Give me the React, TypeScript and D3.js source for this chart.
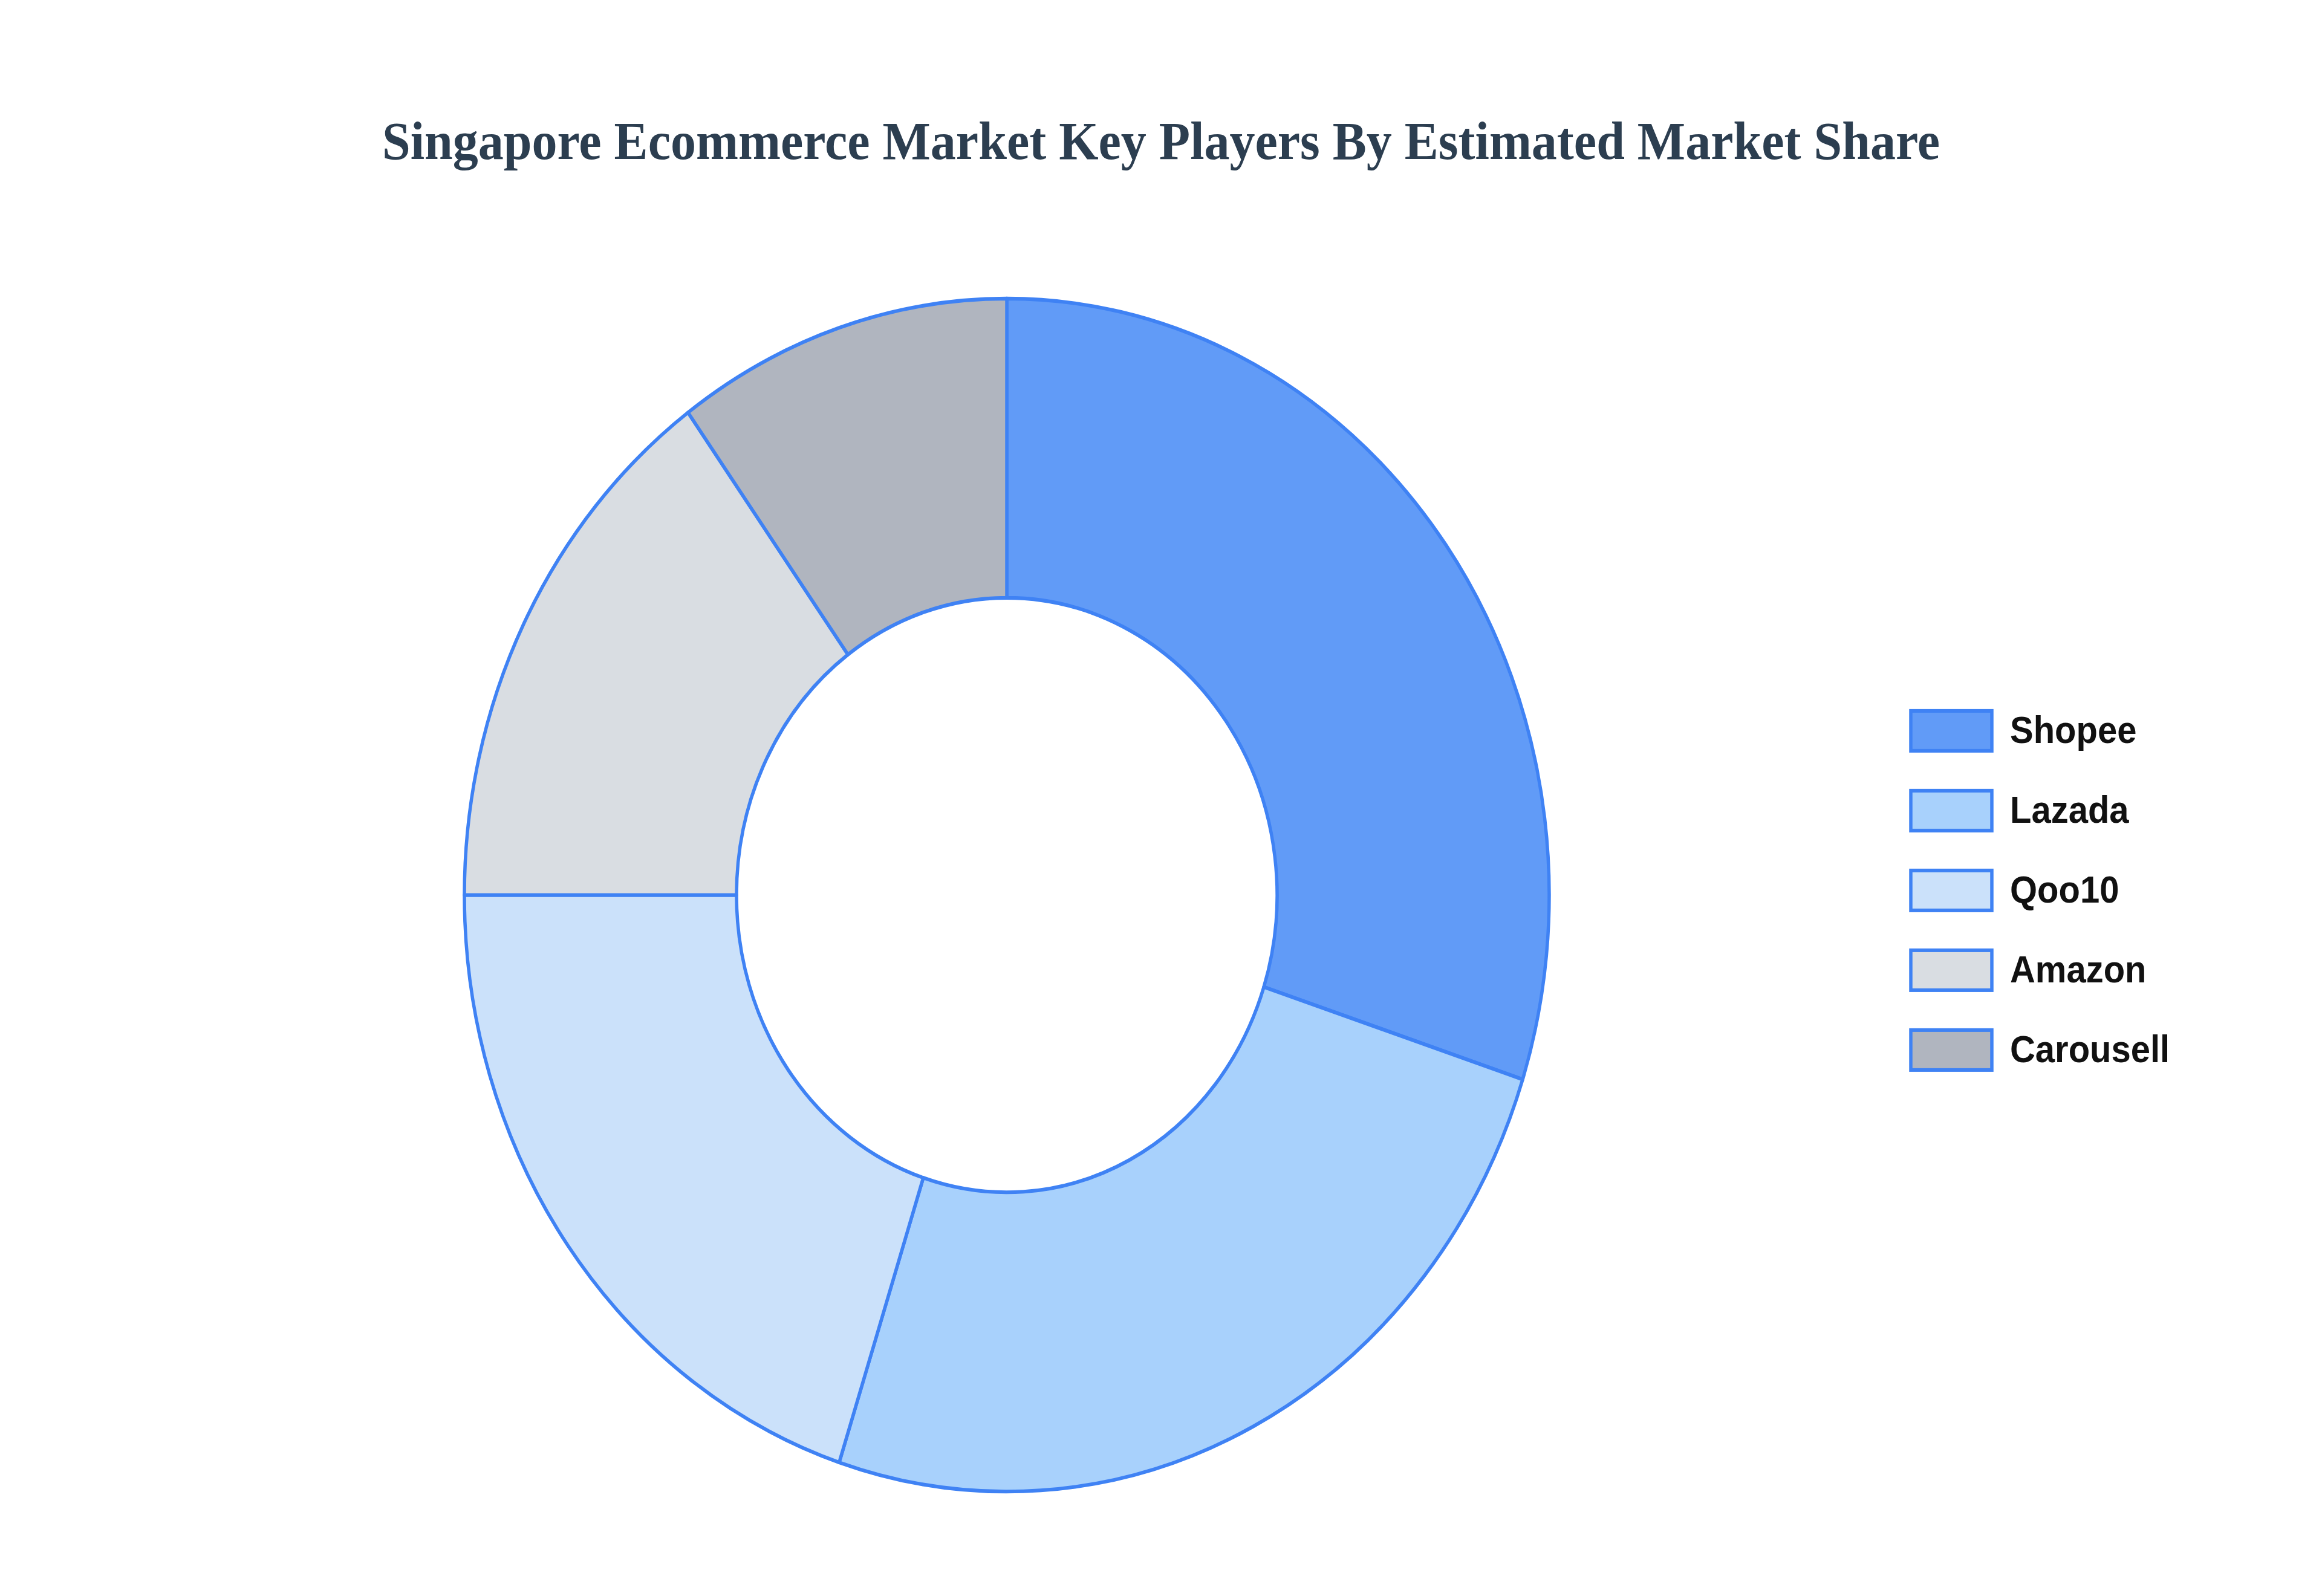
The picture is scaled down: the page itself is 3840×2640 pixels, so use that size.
import React from "react";
import * as d3 from "d3";

const categories = ["Shopee", "Lazada", "Qoo10", "Amazon", "Carousell"];
const shares = [30, 25, 20, 15, 10];
const colors = ["#619bf7", "#a8d1fc", "#cbe1fa", "#d9dde2", "#b0b5bf"];
const title = "Singapore Ecommerce Market Key Players By Estimated Market Share";

const W = 3840;
const H = 2640;
const VH = 2400; // drawing space, stretched vertically to H

export default function App() {
  const cx = 1665;
  const cy = 1346;
  const outerR = 897;
  const innerR = 447;
  const data = categories.map((c, i) => ({ name: c, value: shares[i], color: colors[i] }));
  const pie = d3.pie<any>().sort(null).value((d: any) => d.value);
  const arc = d3.arc<any>().innerRadius(innerR).outerRadius(outerR);
  const arcs = pie(data);
  const legendY = d3.scaleBand<number>().domain(d3.range(categories.length)).range([1043, 1043 + 120 * 5]);

  return (
    <svg
      width={W}
      height={H}
      viewBox={`0 0 ${W} ${VH}`}
      preserveAspectRatio="none"
      style={{ position: "absolute", left: 0, top: 0, background: "#ffffff" }}
    >
      <rect x={0} y={0} width={W} height={VH} fill="#ffffff" />
      <text
        x={1920}
        y={239}
        textAnchor="middle"
        fontFamily="'Liberation Serif', 'Times New Roman', serif"
        fontWeight="bold"
        fontSize={80}
        fill="#2c3e50"
        textLength={2576}
        lengthAdjust="spacingAndGlyphs"
      >
        {title}
      </text>
      <g transform={`translate(${cx},${cy})`}>
        {arcs.map((a, i) => (
          <path
            key={i}
            d={arc(a) as string}
            fill={a.data.color}
            stroke="#3f82f4"
            strokeWidth={5.5}
            strokeLinejoin="round"
          />
        ))}
      </g>
      <g>
        {data.map((d, i) => {
          const y = (legendY(i) as number) + 26;
          return (
            <g key={d.name}>
              <rect
                x={3160}
                y={y}
                width={134}
                height={60}
                fill={d.color}
                stroke="#3f82f4"
                strokeWidth={5.5}
              />
              <text
                x={3324}
                y={y + 48}
                fontFamily="'Liberation Sans', Arial, sans-serif"
                fontWeight="bold"
                fontSize={58}
                fill="#111111"
              >
                {d.name}
              </text>
            </g>
          );
        })}
      </g>
    </svg>
  );
}
